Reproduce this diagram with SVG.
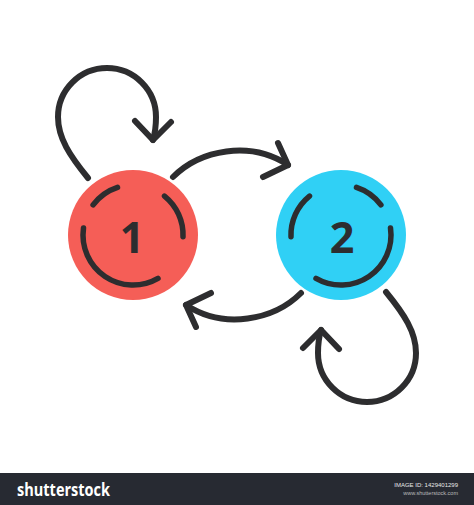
<svg xmlns="http://www.w3.org/2000/svg" width="474" height="505" viewBox="0 0 474 505">
<style>
.ln{fill:none;stroke:#2d2d2f;stroke-width:6;stroke-linecap:round;stroke-linejoin:round}
.arc{fill:none;stroke:#2d2d2f;stroke-width:5.5;stroke-linecap:round}
.num{font-family:"Open Sans","Liberation Sans",sans-serif;font-weight:700;font-size:43px;fill:#2d2d2f;text-anchor:middle}
</style>
<rect width="474" height="505" fill="#ffffff"/>
<g id="connectors">
  <g id="loop1">
    <path class="ln" d="M 88 178 C 70 156 58 138 58 117 A 49 49 0 0 1 156 117 C 156 126 155 133 153 140"/>
    <polyline class="ln" points="135,121 153,140 171,122"/>
  </g>
  <g id="arrow12">
    <path class="ln" d="M 173 177 C 200 150 250 140 288 165"/>
    <polyline class="ln" points="278,143 288,165 263,177"/>
  </g>
  <g id="arrow21" transform="rotate(180 237 235)">
    <path class="ln" d="M 173 177 C 200 150 250 140 288 165"/>
    <polyline class="ln" points="278,143 288,165 263,177"/>
  </g>
  <g id="loop2" transform="rotate(180 237 235)">
    <path class="ln" d="M 88 178 C 70 156 58 138 58 117 A 49 49 0 0 1 156 117 C 156 126 155 133 153 140"/>
    <polyline class="ln" points="135,121 153,140 171,122"/>
  </g>
</g>
<g id="node1">
  <circle cx="133" cy="235" r="65" fill="#f55e57"/>
  <path class="arc" d="M 93.1 204.9 A 50 50 0 0 1 117.5 187.4"/>
  <path class="arc" d="M 164.5 196.1 A 50 50 0 0 1 183 236.7"/>
  <path class="arc" d="M 158 278.3 A 50 50 0 0 1 83.5 228"/>
  <text class="num" x="132" y="253">1</text>
</g>
<g id="node2">
  <circle cx="341" cy="235" r="65" fill="#30d0f5"/>
  <path class="arc" d="M 356.5 187.4 A 50 50 0 0 1 380.9 204.9"/>
  <path class="arc" d="M 291 236.7 A 50 50 0 0 1 309.5 196.1"/>
  <path class="arc" d="M 390.5 228 A 50 50 0 0 1 316 278.3"/>
  <text class="num" x="342" y="253">2</text>
</g>
<g id="banner">
  <rect x="0" y="473" width="474" height="32" fill="#272a32"/>
  <text x="17" y="496" font-family="Open Sans, Liberation Sans, sans-serif" font-weight="700" font-size="18" fill="#ffffff" textLength="93" lengthAdjust="spacingAndGlyphs">shutterstock</text>
  <text x="458" y="487" font-family="Liberation Sans, sans-serif" font-size="6" fill="#e8e8e8" text-anchor="end">IMAGE ID: 1429401299</text>
  <text x="458" y="495" font-family="Liberation Sans, sans-serif" font-size="5.5" fill="#bbbbbb" text-anchor="end">www.shutterstock.com</text>
</g>
</svg>
